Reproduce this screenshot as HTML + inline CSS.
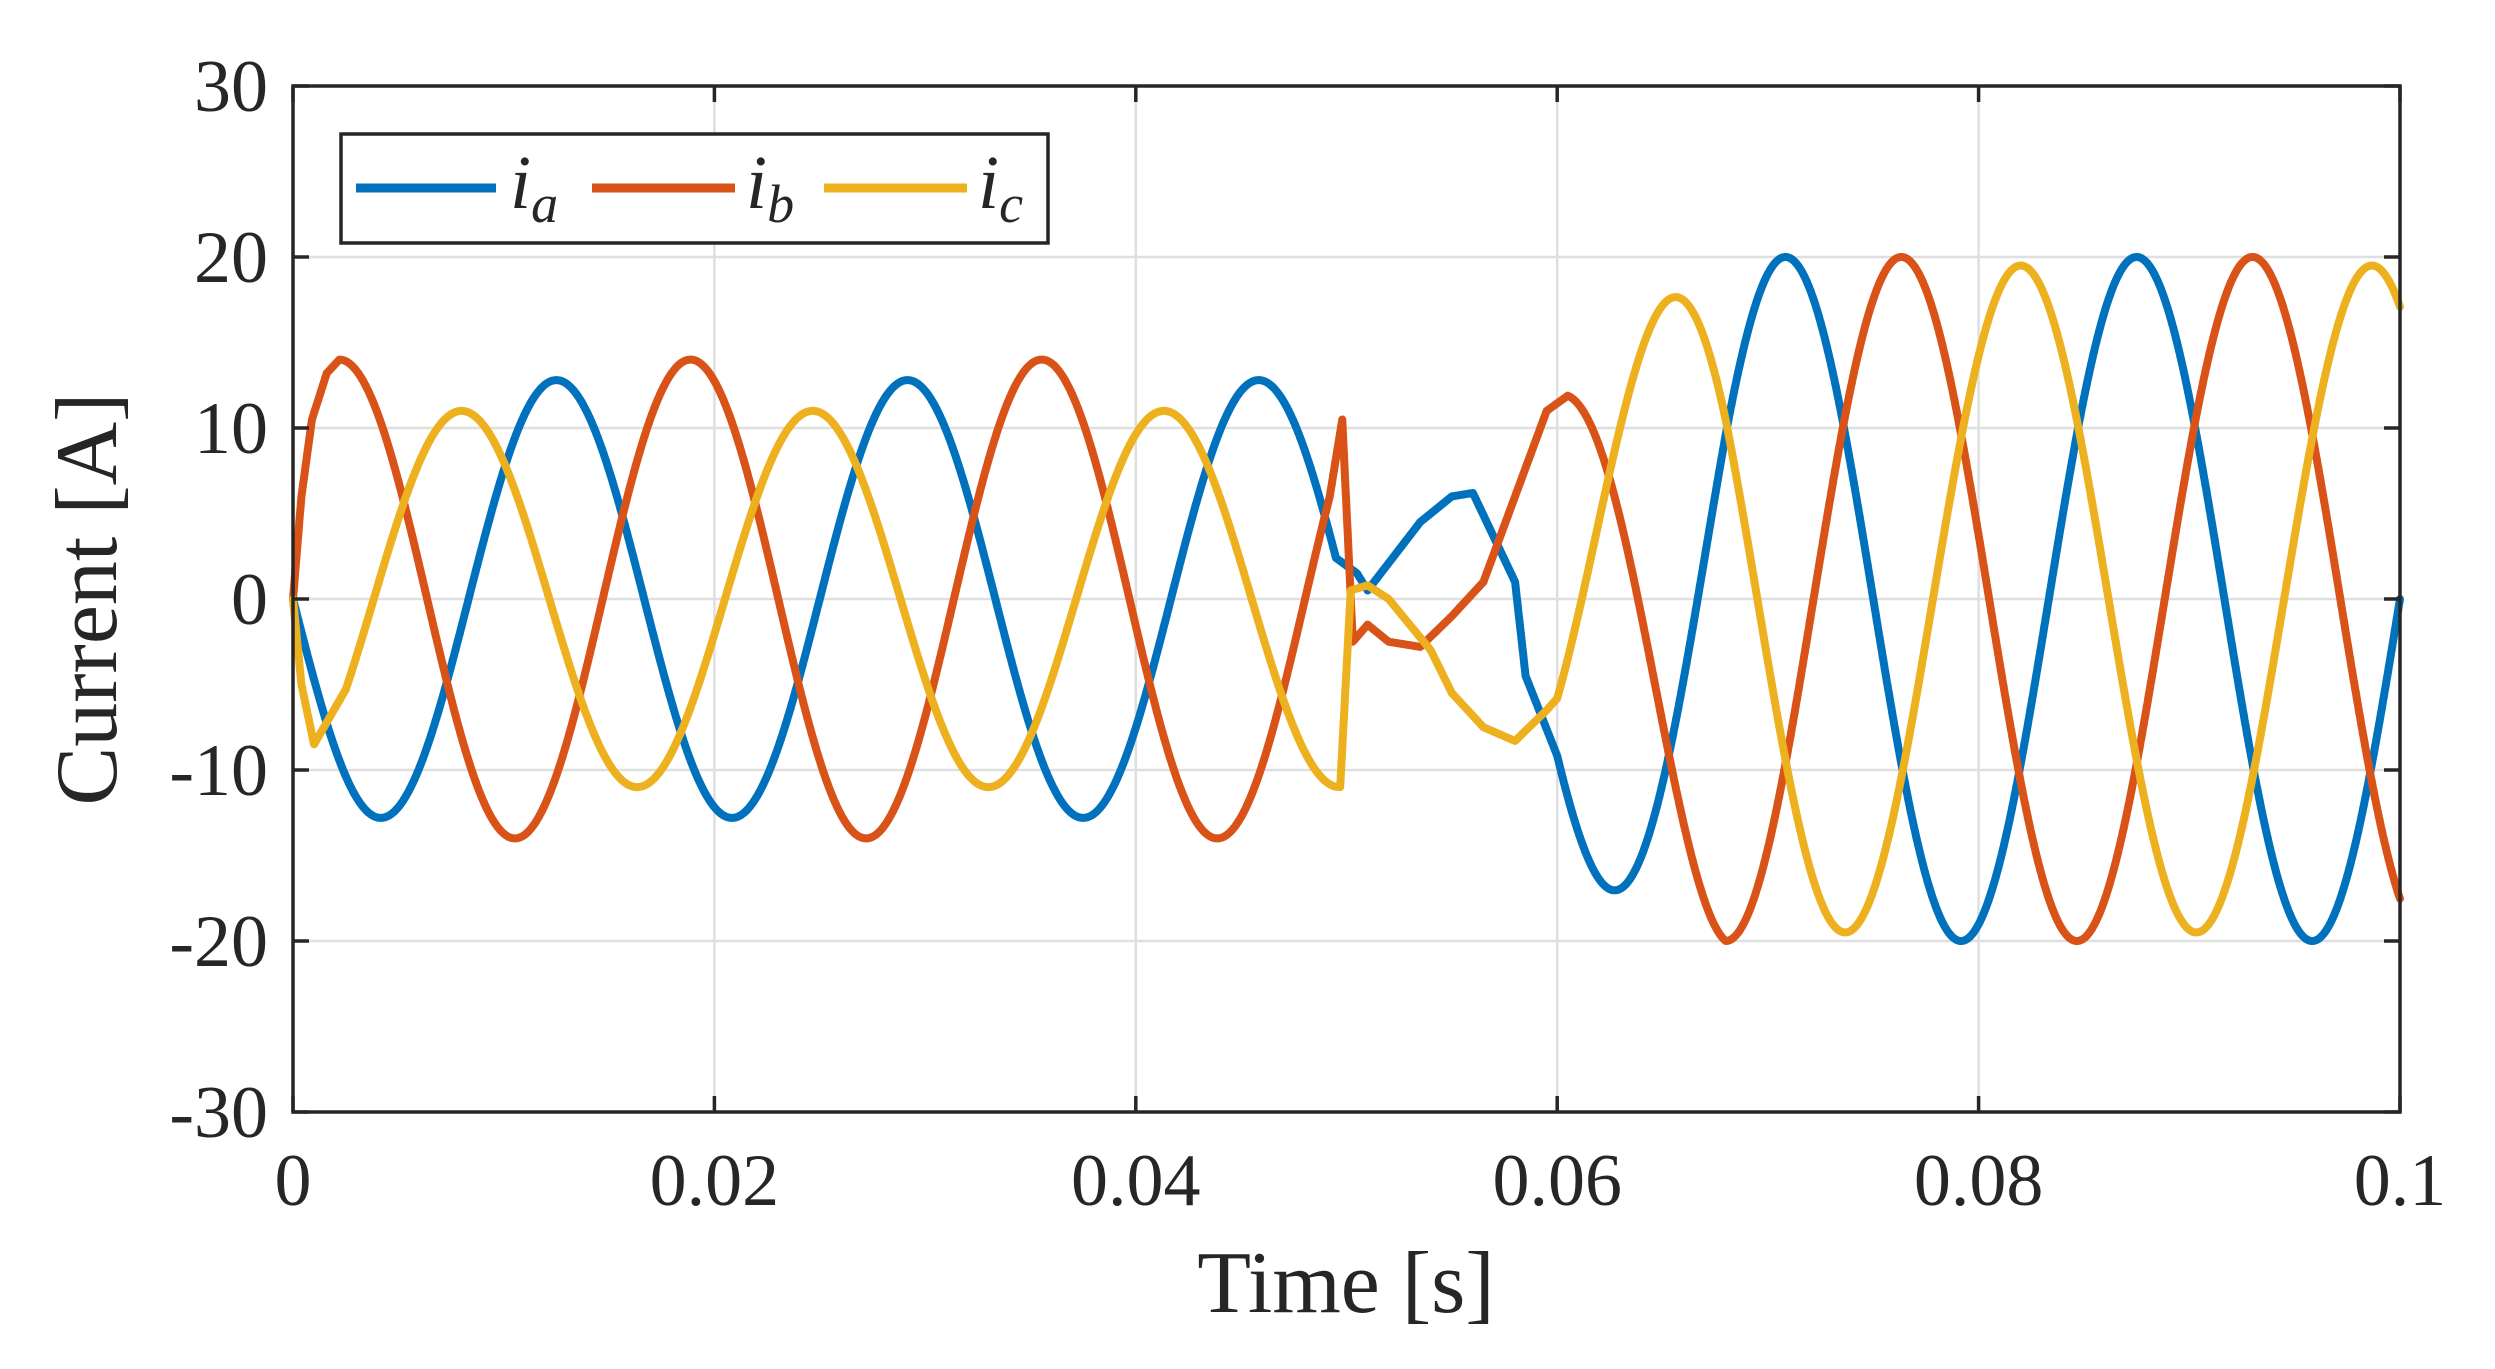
<!DOCTYPE html>
<html><head><meta charset="utf-8"><style>
html,body{margin:0;padding:0;background:#fff;}
svg{display:block;}
text{font-family:"Liberation Serif",serif;fill:#262626;}
</style></head><body>
<svg id="s" width="2495" height="1369" viewBox="0 0 2495 1369" xmlns="http://www.w3.org/2000/svg">
<rect width="2495" height="1369" fill="#fff"/>
<g id="grid" stroke="#dfdfdf" stroke-width="2.5"></g>
<g id="series" fill="none" stroke-width="8" stroke-linejoin="round" stroke-linecap="round"></g>
<g id="axes" stroke="#262626" stroke-width="3.5" fill="none"></g>
<g id="labels" font-size="74"></g>
<text x="1346" y="1312" font-size="88" text-anchor="middle">Time [s]</text>
<text transform="translate(116,599) rotate(-90)" font-size="88" text-anchor="middle">Current [A]</text>
<rect x="341" y="134" width="707" height="109" fill="#fff" stroke="#262626" stroke-width="3.5"/>
<line x1="356" y1="188" x2="496" y2="188" stroke="#0072BD" stroke-width="9"/>
<line x1="592" y1="188" x2="735" y2="188" stroke="#D95319" stroke-width="9"/>
<line x1="824" y1="188" x2="967" y2="188" stroke="#EDB120" stroke-width="9"/>
<text x="510" y="208" font-size="76" font-style="italic" fill="#000">i<tspan font-size="54" dy="14">a</tspan></text>
<text x="746" y="208" font-size="76" font-style="italic" fill="#000">i<tspan font-size="54" dy="14">b</tspan></text>
<text x="978" y="208" font-size="76" font-style="italic" fill="#000">i<tspan font-size="54" dy="14">c</tspan></text>
</svg>
<script>
var L=293,R=2400,T=86,B=1112;
function X(t){return L+(R-L)*t/0.1;}
function Y(v){return B-(B-T)*(v+30)/60;}
var NS="http://www.w3.org/2000/svg";
function el(p,n,a){var e=document.createElementNS(NS,n);for(var k in a)e.setAttribute(k,a[k]);document.getElementById(p).appendChild(e);return e;}
for(var i=1;i<5;i++){var x=X(i*0.02);el("grid","line",{x1:x,y1:T,x2:x,y2:B});}
for(var v=-20;v<=20;v+=10){var y=Y(v);el("grid","line",{x1:L,y1:y,x2:R,y2:y});}
el("axes","rect",{x:L,y:T,width:R-L,height:B-T});
for(var i=0;i<=5;i++){var x=X(i*0.02);el("axes","line",{x1:x,y1:B,x2:x,y2:B-16});el("axes","line",{x1:x,y1:T,x2:x,y2:T+16});
 var t=el("labels","text",{x:x,y:1205,"text-anchor":"middle"});t.textContent=["0","0.02","0.04","0.06","0.08","0.1"][i];}
for(var v=-30;v<=30;v+=10){var y=Y(v);el("axes","line",{x1:L,y1:y,x2:L+16,y2:y});el("axes","line",{x1:R,y1:y,x2:R-16,y2:y});
 var t=el("labels","text",{x:268,y:y+25,"text-anchor":"end"});t.textContent=String(v);}
var w=2*Math.PI*60;
function interp(k,t){for(var i=0;i<k.length-1;i++){if(t>=k[i][0]&&t<=k[i+1][0]){var f=(t-k[i][0])/(k[i+1][0]-k[i][0]);return k[i][1]+f*(k[i+1][1]-k[i][1]);}}return k[k.length-1][1];}
function ramp(a0,t){if(t>=0.068)return 1;return a0+(1-a0)*(t-0.06)/0.008;}
var sig={
a:{s1:function(t){return -12.8*Math.sin(w*t);},s2:function(t){return 20*ramp(0.78,t)*Math.sin(w*(t-0.1));},
 st:null,
 k:[[0.0495,null],[0.0505,1.5],[0.051,0.5],[0.0535,4.5],[0.055,6],[0.056,6.2],[0.058,1],[0.0585,-4.5],[0.06,null]],c:"#0072BD"},
b:{s1:function(t){return 14*Math.cos(w*(t-0.0022));},s2:function(t){return 20*ramp(0.6,t)*Math.cos(w*(t-0.093));},
 st:[[0,0],[0.0004,6],[0.0009,10.5],[0.0016,13.2],[0.0022,null]],
 k:[[0.0492,null],[0.0498,10.5],[0.0503,-2.5],[0.051,-1.5],[0.052,-2.5],[0.0535,-2.8],[0.055,-1],[0.0565,1],[0.058,6],[0.0595,11],[0.0605,null]],c:"#D95319"},
c:{s1:function(t){return 11*Math.cos(w*(t-0.008));},s2:function(t){return 19.5*ramp(0.7,t)*Math.cos(w*(t-0.082));},
 st:[[0,0],[0.0004,-5],[0.001,-8.5],[0.0025,null]],
 k:[[0.0495,null],[0.0497,-11],[0.0502,0.5],[0.051,0.8],[0.052,0],[0.053,-1.5],[0.054,-3],[0.055,-5.5],[0.0565,-7.5],[0.058,-8.3],[0.0595,-6.5],[0.06,null]],c:"#EDB120"}};
["a","b","c"].forEach(function(n){var s=sig[n];var k=s.k;k[0][1]=s.s1(k[0][0]);k[k.length-1][1]=s.s2(k[k.length-1][0]);
 var st=s.st; if(st){st[st.length-1][1]=s.s1(st[st.length-1][0]);}
 var d="";for(var i=0;i<=4000;i++){var t=i*0.1/4000,v;
  if(st&&t<=st[st.length-1][0])v=interp(st,t);
  else if(t<k[0][0])v=s.s1(t);else if(t>k[k.length-1][0])v=s.s2(t);else v=interp(k,t);
  d+=(i?"L":"M")+X(t).toFixed(1)+","+Y(v).toFixed(1);}
 el("series","path",{d:d,stroke:s.c});});
</script>
</body></html>
